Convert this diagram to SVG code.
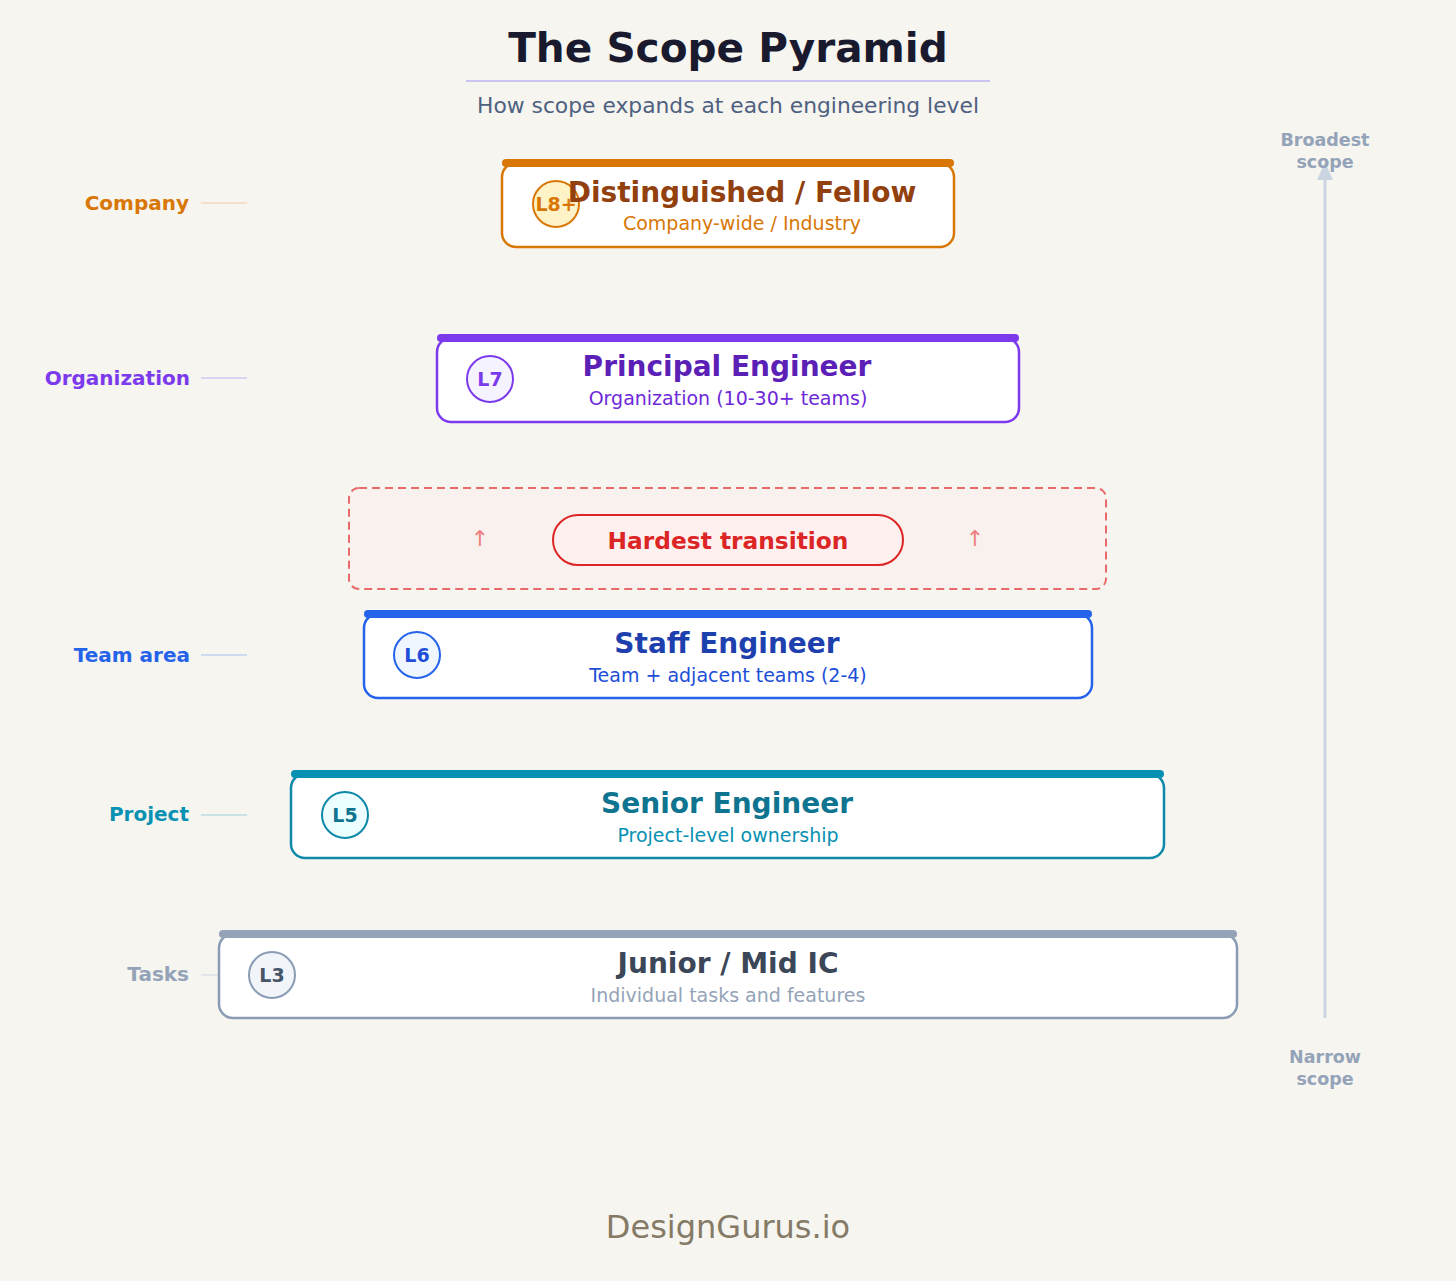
<svg xmlns="http://www.w3.org/2000/svg" width="1456" height="1281" viewBox="0 0 1456 1281">
<style>
text{font-family:"DejaVu Sans","Liberation Sans",sans-serif}
.t{font-size:28px;font-weight:bold;text-anchor:middle}
.s{font-size:19px;text-anchor:middle}
.b{font-size:19px;font-weight:bold;text-anchor:middle}
.lbl{font-size:20px;font-weight:bold;text-anchor:end}
.card{fill:#ffffff;stroke-width:2.5}
.ax{font-size:17.5px;font-weight:bold;fill:#94a3b8;text-anchor:middle}
</style>
<defs>
<marker id="ah" markerWidth="18" markerHeight="16" refX="0" refY="8" orient="auto" markerUnits="userSpaceOnUse" viewBox="0 0 18 16">
<path d="M0,0 L18,8 L0,16 Z" fill="#cbd5e1"/>
</marker>
</defs>
<rect width="1456" height="1281" fill="#f6f5f0"/>
<g id="header">
<text x="728" y="62" font-size="40.6" font-weight="bold" fill="#1a1a2e" text-anchor="middle">The Scope Pyramid</text>
<line x1="466" y1="81" x2="990" y2="81" stroke="#c9c5ee" stroke-width="2"/>
<text x="728" y="113" font-size="21.8" fill="#4f6180" text-anchor="middle">How scope expands at each engineering level</text>
</g>
<g id="connectors">
<line x1="201" y1="203" x2="247" y2="203" stroke="#f3c9a0" stroke-width="1"/>
<line x1="201" y1="378" x2="247" y2="378" stroke="#c7aef5" stroke-width="1"/>
<line x1="201" y1="655" x2="247" y2="655" stroke="#a9c0f0" stroke-width="1"/>
<line x1="201" y1="815" x2="247" y2="815" stroke="#9ed0dc" stroke-width="1"/>
<line x1="201" y1="975" x2="250" y2="975" stroke="#cfd6e0" stroke-width="1"/>
<line x1="1325" y1="1018" x2="1325" y2="180" stroke="#cbd5e1" stroke-width="3" marker-end="url(#ah)"/>
</g>
<g id="labels">
<text class="lbl" x="189" y="210" fill="#d97706">Company</text>
<text class="lbl" x="190" y="385" fill="#7c3aed">Organization</text>
<text class="lbl" x="190" y="662" fill="#2563eb">Team area</text>
<text class="lbl" x="189" y="821" fill="#0891b2">Project</text>
<text class="lbl" x="189" y="981" fill="#94a3b8">Tasks</text>
</g>
<g id="axis-labels">
<text class="ax" x="1325" y="146">Broadest</text>
<text class="ax" x="1325" y="168">scope</text>
<text class="ax" x="1325" y="1063">Narrow</text>
<text class="ax" x="1325" y="1085">scope</text>
</g>
<g id="transition">
<rect x="349" y="488" width="757" height="101" rx="10" fill="#f9f1ee" stroke="#e86a6a" stroke-width="2" stroke-dasharray="8 5"/>
<text x="480" y="546" font-size="22" fill="#ee8080" text-anchor="middle">↑</text>
<text x="975" y="546" font-size="22" fill="#ee8080" text-anchor="middle">↑</text>
<rect x="553" y="515" width="350" height="50" rx="25" fill="#fff0f0" stroke="#dc2626" stroke-width="2"/>
<text x="728" y="549" font-size="23.3" font-weight="bold" fill="#dc2626" text-anchor="middle">Hardest transition</text>
</g>
<g id="l8">
<rect class="card" x="502" y="163" width="452" height="84" rx="14" stroke="#d97706"/>
<rect x="502" y="159" width="452" height="8" rx="4" fill="#d97706"/>
<circle cx="556" cy="204" r="23" fill="#fef3c7" stroke="#d97706" stroke-width="2"/>
<text class="b" x="556" y="211" fill="#d97706">L8+</text>
<text class="t" x="742" y="202" fill="#92400e">Distinguished / Fellow</text>
<text class="s" x="742" y="230" fill="#d97706">Company-wide / Industry</text>
</g>
<g id="l7">
<rect class="card" x="437" y="338" width="582" height="84" rx="14" stroke="#7c3aed"/>
<rect x="437" y="334" width="582" height="8" rx="4" fill="#7c3aed"/>
<circle cx="490" cy="379" r="23" fill="#f5f3ff" stroke="#7c3aed" stroke-width="2"/>
<text class="b" x="490" y="386" fill="#7c3aed">L7</text>
<text class="t" x="727" y="376" fill="#5b21b6">Principal Engineer</text>
<text class="s" x="728" y="405" fill="#6d28d9">Organization (10-30+ teams)</text>
</g>
<g id="l6">
<rect class="card" x="364" y="614" width="728" height="84" rx="14" stroke="#2563eb"/>
<rect x="364" y="610" width="728" height="8" rx="4" fill="#2563eb"/>
<circle cx="417" cy="655" r="23" fill="#eff6ff" stroke="#2563eb" stroke-width="2"/>
<text class="b" x="417" y="662" fill="#1d4ed8">L6</text>
<text class="t" x="727" y="653" fill="#1e40af">Staff Engineer</text>
<text class="s" x="728" y="682" fill="#1d4ed8">Team + adjacent teams (2-4)</text>
</g>
<g id="l5">
<rect class="card" x="291" y="774" width="873" height="84" rx="14" stroke="#0e89a8"/>
<rect x="291" y="770" width="873" height="8" rx="4" fill="#0891b2"/>
<circle cx="345" cy="815" r="23" fill="#ecfeff" stroke="#0e89a8" stroke-width="2"/>
<text class="b" x="345" y="822" fill="#0e7490">L5</text>
<text class="t" x="727" y="813" fill="#0e7490">Senior Engineer</text>
<text class="s" x="728" y="842" fill="#0891b2">Project-level ownership</text>
</g>
<g id="l3">
<rect class="card" x="219" y="934" width="1018" height="84" rx="14" stroke="#8a9bb5"/>
<rect x="219" y="930" width="1018" height="8" rx="4" fill="#94a3b8"/>
<circle cx="272" cy="975" r="23" fill="#f1f5f9" stroke="#8a9bb5" stroke-width="2"/>
<text class="b" x="272" y="982" fill="#475569">L3</text>
<text class="t" x="728" y="973" fill="#3b4758">Junior / Mid IC</text>
<text class="s" x="728" y="1002" fill="#94a3b8">Individual tasks and features</text>
</g>
<g id="footer">
<text x="728" y="1238" font-size="32" fill="#857a66" text-anchor="middle">DesignGurus.io</text>
</g>
</svg>
